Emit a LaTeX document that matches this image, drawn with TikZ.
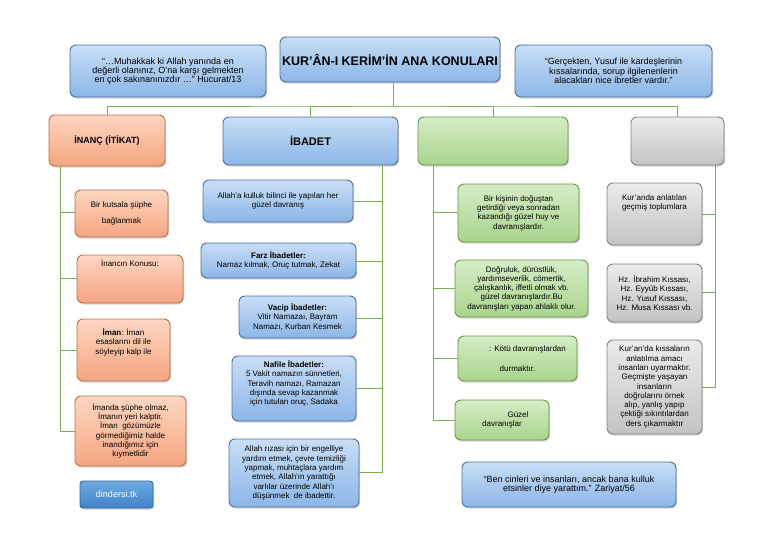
\documentclass[tikz,border=0pt]{standalone}
\usepackage{fontspec}
\setmainfont{Liberation Sans}
\usetikzlibrary{shadows}
\definecolor{lg}{HTML}{7AAE4E}
\begin{document}
\begin{tikzpicture}[x=1pt,y=-1pt,
 box/.style={draw, line width=0.9pt, rounded corners=6pt, align=center, inner sep=2pt,
   font=\fontsize{8}{9.3}\selectfont, drop shadow={shadow xshift=1pt,shadow yshift=-1.5pt,opacity=0.35}},
 blue/.style={box, draw={rgb,255:red,80;green,112;blue,150}, top color={rgb,255:red,200;green,222;blue,245}, bottom color={rgb,255:red,140;green,182;blue,232}},
 org/.style={box, draw={rgb,255:red,185;green,110;blue,80}, top color={rgb,255:red,253;green,214;blue,193}, bottom color={rgb,255:red,245;green,165;blue,128}},
 grn/.style={box, draw={rgb,255:red,105;green,150;blue,75}, top color={rgb,255:red,214;green,237;blue,198}, bottom color={rgb,255:red,168;green,212;blue,140}},
 gry/.style={box, draw={rgb,255:red,130;green,130;blue,130}, top color={rgb,255:red,235;green,235;blue,235}, bottom color={rgb,255:red,195;green,195;blue,195}},
 con/.style={draw=lg, line width=0.8pt}]
\useasboundingbox (0,0) rectangle (768,543);
\newcommand{\bx}[6]{\node[#1, minimum width=#4-#2, minimum height=#5-#3] (#6) at ({(#2+#4)/2},{(#3+#5)/2})}
\newcommand{\qf}{\fontsize{9}{12.5}\selectfont}
% top
\bx{blue}{280}{37}{500}{82}{title} {\fontsize{12.5}{14}\selectfont\bfseries KUR’ÂN-I KERİM’İN ANA KONULARI};
\bx{blue}{70}{45}{266}{97}{ql} {\qf “…Muhakkak ki Allah yanında en\\\qf değerli olanınız, O’na karşı gelmekten\\\qf en çok sakınanınızdır …” Hucurat/13};
\bx{blue}{515}{45}{712}{97}{qr} {\qf “Gerçekten, Yusuf ile kardeşlerinin\\\qf kıssalarında, sorup ilgilenenlerin\\\qf alacakları nice ibretler vardır.”};
% main
\bx{org}{49}{115}{165}{166}{inanc} {\fontsize{9}{10}\selectfont\bfseries İNANÇ (İTİKAT)};
\bx{blue}{223}{117}{398}{165}{ibadet} {\fontsize{11}{12}\selectfont\bfseries İBADET};
\bx{grn}{418}{117}{568}{165}{ahlak} {};
\bx{gry}{631}{117}{724}{165}{kissa} {};
\coordinate (j) at (393,106);
\draw[con] (title.south -| j) -- (j);
\draw[con] (inanc.north) |- (j) -| (kissa.north);
\draw[con] (ibadet.north) |- (j) -| (ahlak.north);
% inanç children
\bx{org}{75}{190}{168}{237}{c1} {Bir kutsala şüphe\\[6pt]bağlanmak};
\bx{org}{77}{255}{183}{303}{c2} {İnancın Konusu:\\[22pt]\mbox{}};
\bx{org}{77}{319}{170}{381}{c3} {\textbf{İman}: İman\\esaslarını dil ile\\söyleyip kalp ile\\[8pt]\mbox{}};
\bx{org}{75}{396}{186}{466}{c4} {İmanda şüphe olmaz,\\İmanın yeri kalptir.\\İman\ \ gözümüzle\\görmediğimiz halde\\inandığımız için\\kıymetlidir};
\node[draw={rgb,255:red,50;green,100;blue,160}, line width=0.9pt, rounded corners=3pt, top color={rgb,255:red,110;green,170;blue,225}, bottom color={rgb,255:red,65;green,130;blue,200}, minimum width=73, minimum height=27, text=white, font=\fontsize{9}{10}\selectfont, drop shadow={shadow xshift=1pt,shadow yshift=-1.5pt,opacity=0.35}] (web) at (116.5,494.5) {dindersi.tk};
\coordinate (li) at (60,431);
\draw[con] (inanc.south -| li) -- (li) -- (c4.west |- li);
\foreach \n/\y in {c1/212,c2/278,c3/350} \draw[con] (60,\y) -- (\n.west |- {0,\y});
% ibadet children
\bx{blue}{203}{180}{353}{222}{b1} {Allah’a kulluk bilinci ile yapılan her\\güzel davranış\hspace{3em}};
\bx{blue}{201}{243}{356}{278}{b2} {\textbf{Farz İbadetler:}\\Namaz kılmak, Oruç tutmak, Zekat};
\bx{blue}{239}{296}{356}{338}{b3} {\textbf{Vacip İbadetler:}\\Vitir Namazaı, Bayram\\Namazı, Kurban Kesmek};
\bx{blue}{232}{356}{356}{421}{b4} {\textbf{Nafile İbadetler:}\\5 Vakit namazın sünnetleri,\\Teravih namazı, Ramazan\\dışında sevap kazanmak\\için tutulan oruç, Sadaka\\[2pt]\mbox{}};
\bx{blue}{229}{439}{359}{507}{b5} {Allah rızası için bir engelliye\\yardım etmek, çevre temizliği\\yapmak, muhtaçlara yardım\\etmek, Allah’ın yarattığı\\varlılar üzerinde Allah’ı\\düşünmek\ \ de ibadettir.};
\coordinate (bi) at (382,472);
\draw[con] (ibadet.south -| bi) -- (bi) -- (b5.east |- bi);
\foreach \n/\y in {b1/201,b2/261,b3/318,b4/388} \draw[con] (382,\y) -- (\n.east |- {0,\y});
% ahlak children
\bx{grn}{458}{184}{579}{242}{g1} {Bir kişinin doğuştan\\getirdiği veya sonradan\\kazandığı güzel huy ve\\davranışlardır.};
\bx{grn}{455}{260}{588}{317}{g2} {Doğruluk, dürüstlük,\\yardımseverlik, cömertik,\\çalışkanlık, iffetli olmak vb.\\güzel davranışlardır.Bu\\davranışları yapan ahlaklı olur.};
\bx{grn}{458}{336}{577}{381}{g3} {\hspace{2.5em}: Kötü davranışlardan\\[10pt]durmaktır.};
\bx{grn}{455}{400}{549}{440}{g4} {\hspace{4em}Güzel\\davranışlar\hspace{2em}};
\coordinate (gi) at (433,420);
\draw[con] (ahlak.south -| gi) -- (gi) -- (g4.west |- gi);
\foreach \n/\y in {g1/212,g2/288,g3/358} \draw[con] (433,\y) -- (\n.west |- {0,\y});
% kıssa children
\bx{gry}{607}{183}{702}{245}{r1} {Kur’anda anlatılan\\geçmiş toplumlara\\[14pt]\mbox{}};
\bx{gry}{607}{264}{702}{322}{r2} {Hz. İbrahim Kıssası,\\Hz. Eyyüb Kıssası,\\Hz. Yusuf Kıssası,\\Hz. Musa Kıssası vb.};
\bx{gry}{607}{340}{702}{434}{r3} {Kur’an’da kıssaların\\anlatılma amacı\\insanları uyarmaktır.\\Geçmişte yaşayan\\insanların\\doğrularını örnek\\alıp, yanlış yapıp\\çektiği sıkıntılardan\\ders çıkarmaktır};
\coordinate (ri) at (715,387);
\draw[con] (kissa.south -| ri) -- (ri) -- (r3.east |- ri);
\foreach \n/\y in {r1/214,r2/292} \draw[con] (715,\y) -- (\n.east |- {0,\y});
% bottom quote
\bx{blue}{462}{462}{676}{507}{qb} {\qf “Ben cinleri ve insanları, ancak bana kulluk\\\qf etsinler diye yarattım.” Zariyat/56};
\end{tikzpicture}
\end{document}
